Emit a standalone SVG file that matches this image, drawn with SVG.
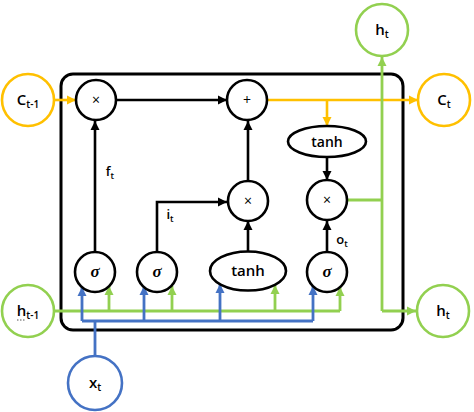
<svg xmlns="http://www.w3.org/2000/svg" width="474" height="412" viewBox="0 0 474 412">
<style>
.op{fill:#fff;stroke:#000;stroke-width:2.6}
.io{fill:#fff;stroke-width:2.6}
.t{font-family:"Open Sans","Noto Sans","Liberation Sans",sans-serif;font-weight:600;fill:#000;text-anchor:middle}
.sym{font-family:"Open Sans","Noto Sans","Liberation Sans",sans-serif;font-size:14px;fill:#000;text-anchor:middle}
.sg{font-family:"Liberation Serif","DejaVu Serif",serif;font-style:italic;font-weight:bold;font-size:17px;fill:#000;text-anchor:middle}
.k{fill:none;stroke:#000;stroke-width:2.6}
.o{fill:none;stroke:#FFC000;stroke-width:2.6}
.g{fill:none;stroke:#92D050;stroke-width:2.8}
.b{fill:none;stroke:#4472C4;stroke-width:2.8}
</style>
<defs>
<marker id="ak" markerUnits="userSpaceOnUse" markerWidth="10" markerHeight="10" refX="9" refY="5" orient="auto"><path d="M0,0.5 L9,5 L0,9.5 Z" fill="#000"/></marker>
<marker id="ao" markerUnits="userSpaceOnUse" markerWidth="10" markerHeight="10" refX="9" refY="5" orient="auto"><path d="M0,0.5 L9,5 L0,9.5 Z" fill="#FFC000"/></marker>
<marker id="ag" markerUnits="userSpaceOnUse" markerWidth="10" markerHeight="10" refX="9" refY="5" orient="auto"><path d="M0,0.5 L9,5 L0,9.5 Z" fill="#92D050"/></marker>
<marker id="ab" markerUnits="userSpaceOnUse" markerWidth="10" markerHeight="10" refX="9" refY="5" orient="auto"><path d="M0,0.5 L9,5 L0,9.5 Z" fill="#4472C4"/></marker>
</defs>
<rect width="474" height="412" fill="#fff"/>
<rect id="cell" x="61" y="74" width="342" height="256" rx="12" fill="none" stroke="#000" stroke-width="3"/>
<g id="connectors">
<path class="o" d="M54,100 H76" marker-end="url(#ao)"/>
<path class="k" d="M116,100 H227" marker-end="url(#ak)"/>
<path class="k" d="M95,252 V121" marker-end="url(#ak)"/>
<path class="k" d="M157,252 V202 H227" marker-end="url(#ak)"/>
<path class="k" d="M248,251 V221" marker-end="url(#ak)"/>
<path class="k" d="M248,180 V121" marker-end="url(#ak)"/>
<path class="o" d="M267,100 H418" marker-end="url(#ao)"/>
<path class="o" d="M327,100 V126" marker-end="url(#ao)"/>
<path class="k" d="M327,157 V180" marker-end="url(#ak)"/>
<path class="k" d="M327,252 V221" marker-end="url(#ak)"/>
<path class="g" d="M347,200 H382"/>
<path class="g" d="M382,311 V57" marker-end="url(#ag)"/>
<path class="g" d="M382,311 H416" marker-end="url(#ag)"/>
<path class="g" d="M54,311 H340"/>
<path class="g" d="M109,311 V286" marker-end="url(#ag)"/>
<path class="g" d="M172,311 V286" marker-end="url(#ag)"/>
<path class="g" d="M275,311 V285" marker-end="url(#ag)"/>
<path class="g" d="M340,311 V287" marker-end="url(#ag)"/>
<path class="b" d="M82,321 H313"/>
<path class="b" d="M95,321 V356"/>
<path class="b" d="M82,321 V287" marker-end="url(#ab)"/>
<path class="b" d="M144,321 V286" marker-end="url(#ab)"/>
<path class="b" d="M220,321 V284" marker-end="url(#ab)"/>
<path class="b" d="M313,321 V286" marker-end="url(#ab)"/>
</g>
<g id="labels">
<text class="t" x="110" y="176" font-size="13">f<tspan font-size="9" dy="3">t</tspan></text>
<text class="t" x="170" y="219" font-size="13">i<tspan font-size="9" dy="3">t</tspan></text>
<text class="t" x="342" y="244" font-size="13">o<tspan font-size="9" dy="3">t</tspan></text>
</g>
<g id="c_prev"><circle class="io" cx="28" cy="100" r="26" stroke="#FFC000"/><text class="t" x="28" y="105" font-size="15">C<tspan font-size="10" dy="3">t-1</tspan></text></g>
<g id="c_next"><circle class="io" cx="444" cy="100" r="26" stroke="#FFC000"/><text class="t" x="444" y="105" font-size="15">C<tspan font-size="10" dy="3">t</tspan></text></g>
<g id="h_top"><circle class="io" cx="382" cy="30" r="26" stroke="#92D050"/><text class="t" x="382" y="35" font-size="15">h<tspan font-size="10" dy="3">t</tspan></text></g>
<g id="h_out"><circle class="io" cx="443" cy="311" r="26" stroke="#92D050"/><text class="t" x="443" y="316" font-size="15">h<tspan font-size="10" dy="3">t</tspan></text></g>
<g id="h_prev"><circle class="io" cx="28" cy="311" r="26" stroke="#92D050"/><text class="t" x="28" y="316" font-size="15">h<tspan font-size="10" dy="3">t-1</tspan></text><path d="M17,320 H26" stroke="#555" stroke-width="1" stroke-dasharray="1.5,1.5"/></g>
<g id="x_in"><circle class="io" cx="95" cy="383" r="27" stroke="#4472C4"/><text class="t" x="95" y="388" font-size="15">x<tspan font-size="10" dy="3">t</tspan></text></g>
<g id="mul_f"><circle class="op" cx="96" cy="100" r="20"/><text class="sym" x="96" y="105">×</text></g>
<g id="add"><circle class="op" cx="247" cy="100" r="20"/><text class="sym" x="247" y="105">+</text></g>
<g id="tanh_c"><ellipse class="op" cx="327" cy="141.5" rx="39" ry="15.5"/><text class="t" x="327" y="146.5" font-size="14">tanh</text></g>
<g id="mul_i"><circle class="op" cx="248" cy="201" r="20"/><text class="sym" x="248" y="206">×</text></g>
<g id="mul_o"><circle class="op" cx="327" cy="200" r="20"/><text class="sym" x="327" y="205">×</text></g>
<g id="sig_f"><circle class="op" cx="95" cy="272" r="20"/><text class="sg" x="95" y="277">σ</text></g>
<g id="sig_i"><circle class="op" cx="157" cy="272" r="20"/><text class="sg" x="157" y="277">σ</text></g>
<g id="tanh_g"><ellipse class="op" cx="248" cy="271" rx="38" ry="19.5"/><text class="t" x="248" y="276" font-size="15">tanh</text></g>
<g id="sig_o"><circle class="op" cx="327" cy="272" r="20"/><text class="sg" x="327" y="277">σ</text></g>
</svg>
